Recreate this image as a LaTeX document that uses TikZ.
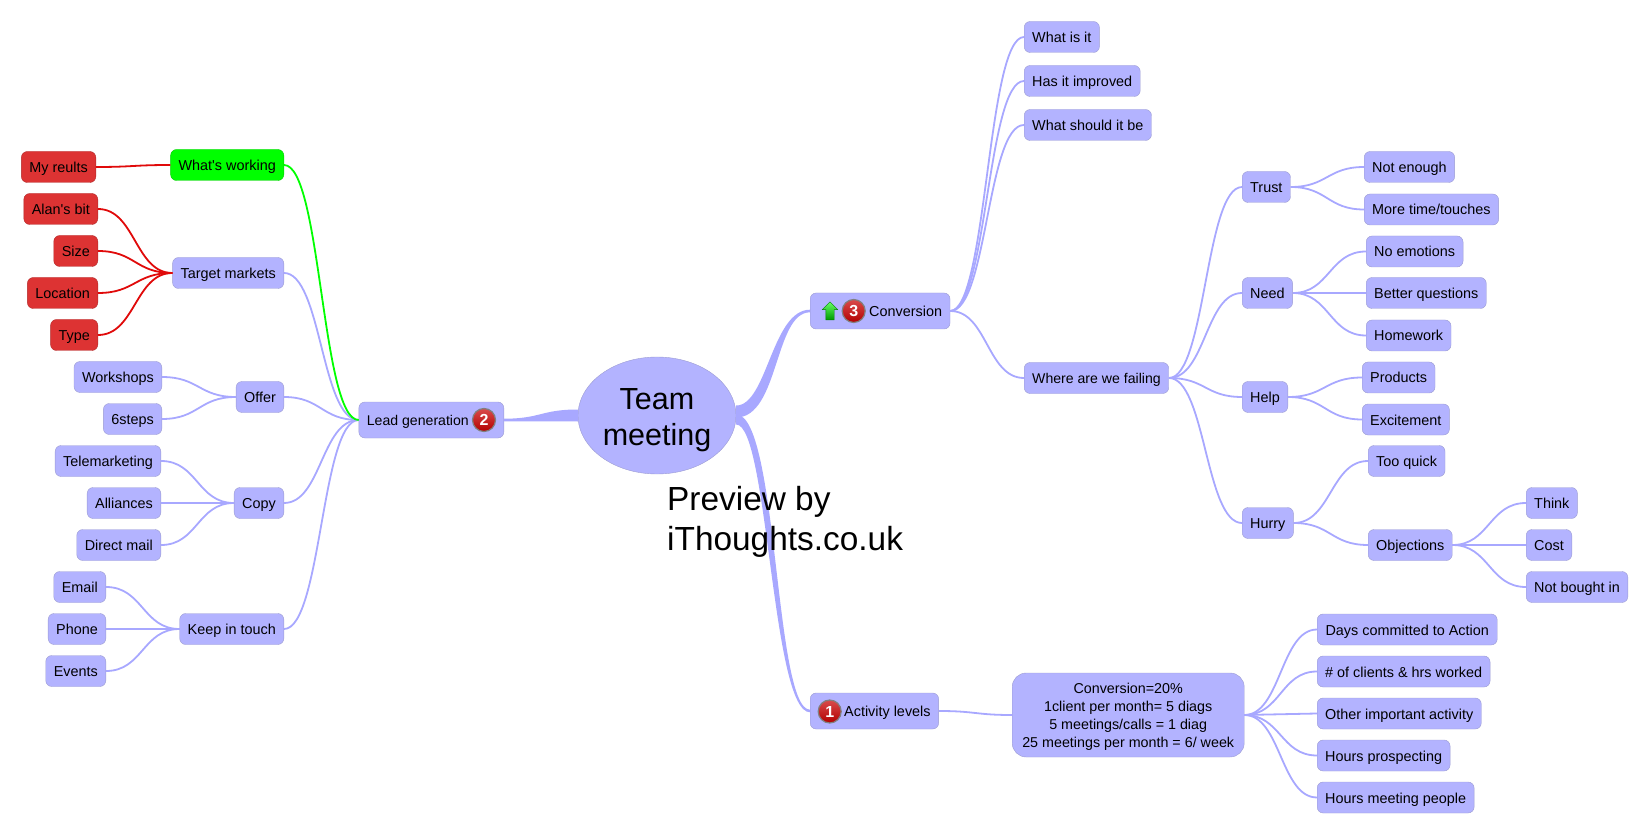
\documentclass[tikz,border=0pt]{standalone}
\usepackage{fontspec}
\usepackage{xcolor}
\setmainfont{Liberation Sans}
\usetikzlibrary{calc}
\usetikzlibrary{shapes.geometric}
\usetikzlibrary{shapes.arrows}
\definecolor{nodefill}{HTML}{B3B3FF}
\definecolor{nodeline}{HTML}{9C9CD2}
\definecolor{linkblue}{HTML}{A8A8FF}
\definecolor{nodered}{HTML}{DD3333}
\definecolor{linkred}{HTML}{E00A0A}
\definecolor{nodegreen}{HTML}{00FF00}
\tikzset{box/.style={draw=nodeline,fill=nodefill,rounded corners=6pt,minimum height=31pt,inner xsep=8pt,inner ysep=0pt,text height=11pt,text depth=0pt,font=\fontsize{14.4}{18}\selectfont},
	narrow/.style={font=\fontsize{14.1}{18}\selectfont},
	topic/.style={box,minimum height=36pt},
	redbox/.style={box,fill=nodered,draw=nodered!80!black},
	greenbox/.style={box,fill=nodegreen,draw=green!80!black},
	badge/.style={circle,draw=black!50,line width=1.2pt,top color=red!65!white!85!black,bottom color=red!70!black,text=white,inner sep=0pt,minimum size=23pt,font=\fontsize{16}{16}\selectfont\bfseries},
	upmark/.style={single arrow,shape border rotate=90,draw=green!50!black,top color=green!60!white,bottom color=green!60!black,minimum width=15pt,minimum height=18pt,inner sep=4pt,single arrow head extend=3.5pt,single arrow head indent=0pt},
	branch/.style={to path={let \p1=(\tikztostart),\p2=(\tikztotarget),\n1={0.5*(\x2-\x1)} in .. controls (\x1+\n1,\y1) and (\x2-\n1,\y2) .. (\tikztotarget)}}}
\newcommand{\trunk}[5]{\fill[linkblue] let \p1=(#1),\p2=(#2),\n1={0.5*(\x2-\x1)} in
	(\x1,\y1+#3) .. controls (\x1+\n1+#5*#3,\y1+#3) and (\x2-\n1+#5*#4,\y2+#4) .. (\x2,\y2+#4)
	-- (\x2,\y2-#4) .. controls (\x2-\n1-#5*#4,\y2-#4) and (\x1+\n1-#5*#3,\y1-#3) .. (\x1,\y1-#3) -- cycle;}

\begin{document}
\begin{tikzpicture}[x=1pt,y=-1pt]
	\useasboundingbox (0,0) rectangle (1650,834);
	\node[ellipse,draw=nodeline,fill=nodefill,minimum width=158pt,minimum height=117pt,inner sep=0pt,align=center,font=\fontsize{30.5}{36}\selectfont] (Team) at (657,415.5) {\rule{0pt}{30pt}Team\\meeting};
	\begin{scope}[every node/.style={box,anchor=west}]
		\node[topic] (Conv) at (810,311) {\hspace*{51pt}Conversion};
		\node[topic] (Act) at (810,711) {\hspace*{26pt}Activity levels};
		\node (WhatIs) at (1024,37) {What is it};
		\node (Improved) at (1024,81) {Has it improved};
		\node (Should) at (1024,125) {What should it be};
		\node[narrow] (Failing) at (1024,378) {Where are we failing};
		\node (Trust) at (1242,187) {Trust};
		\node (Enough) at (1364,167) {Not enough};
		\node (Touches) at (1364,209.5) {More time/touches};
		\node (Need) at (1242,293) {Need};
		\node (Emotions) at (1366,251.5) {No emotions};
		\node (Questions) at (1366,293) {Better questions};
		\node (Homework) at (1366,335.5) {Homework};
		\node (Help) at (1242,397) {Help};
		\node (Products) at (1362,377.5) {Products};
		\node (Excite) at (1362,419.5) {Excitement};
		\node (Hurry) at (1242,523) {Hurry};
		\node (Quick) at (1368,461) {Too quick};
		\node (Object) at (1368,545) {Objections};
		\node (Think) at (1526,503) {Think};
		\node (Cost) at (1526,545) {Cost};
		\node (Bought) at (1526,587) {Not bought in};
		\node[font=\fontsize{14.3}{18}\selectfont,rounded corners=14pt,align=center,text height={},text depth={},minimum width=232pt,minimum height=84pt] (Rates) at (1012,715) {\rule{0pt}{14.5pt}Conversion=20\%\\1client per month= 5 diags\\5 meetings/calls = 1 diag\\25 meetings per month = 6/ week};
		\node[minimum width=180pt] (Days) at (1317,629.5) {Days committed to Action};
		\node (Clients) at (1317,671.5) {\# of clients \& hrs worked};
		\node (Other) at (1317,713.5) {Other important activity};
		\node (Prospect) at (1317,755.5) {Hours prospecting};
		\node (People) at (1317,797.5) {Hours meeting people};
	\end{scope}
	\begin{scope}[every node/.style={box,anchor=east}]
		\node[topic,narrow] (Lead) at (504,420) {Lead generation\hspace*{27pt}};
		\node[greenbox] (Working) at (284,165) {What\textquotesingle s working};
		\node[redbox] (Reults) at (96,167) {My reults};
		\node[redbox] (Alan) at (98,209) {Alan\textquotesingle s bit};
		\node[redbox] (Size) at (98,251) {Size};
		\node[redbox] (Location) at (98,293) {Location};
		\node[redbox] (Type) at (98,335) {Type};
		\node (Target) at (284,273) {Target markets};
		\node (Offer) at (284,397) {Offer};
		\node (Workshops) at (162,377) {Workshops};
		\node (Steps) at (162,419) {6steps};
		\node (Copy) at (284,503) {Copy};
		\node (Tele) at (161,461) {Telemarketing};
		\node (Alliances) at (161,503) {Alliances};
		\node (Direct) at (161,545) {Direct mail};
		\node (Touch) at (284,629) {Keep in touch};
		\node (Email) at (106,587) {Email};
		\node (Phone) at (106,629) {Phone};
		\node (Events) at (106,671) {Events};
	\end{scope}
	\node[upmark] (Up) at (830,313) {};
	\node[badge] (Three) at (853.7,311) {3};
	\node[badge] (Two) at (484,420) {2};
	\node[badge] (One) at (829.7,711.5) {1};
	\trunk{$(Team.east)+(0,-4)$}{Conv.west}{6pt}{1.3pt}{-1}
	\trunk{$(Team.east)+(0,4)$}{Act.west}{5pt}{1.3pt}{1}
	\trunk{Team.west}{Lead.east}{6pt}{1.3pt}{0}
	\begin{scope}[every edge/.style={draw=linkblue,line width=1.8pt,branch}]
		\path (Conv.east) edge (WhatIs.west);
		\path (Conv.east) edge (Improved.west);
		\path (Conv.east) edge (Should.west);
		\path (Conv.east) edge (Failing.west);
		\path (Failing.east) edge (Trust.west);
		\path (Failing.east) edge (Need.west);
		\path (Failing.east) edge (Help.west);
		\path (Failing.east) edge (Hurry.west);
		\path (Trust.east) edge (Enough.west);
		\path (Trust.east) edge (Touches.west);
		\path (Need.east) edge (Emotions.west);
		\path (Need.east) edge (Questions.west);
		\path (Need.east) edge (Homework.west);
		\path (Help.east) edge (Products.west);
		\path (Help.east) edge (Excite.west);
		\path (Hurry.east) edge (Quick.west);
		\path (Hurry.east) edge (Object.west);
		\path (Object.east) edge (Think.west);
		\path (Object.east) edge (Cost.west);
		\path (Object.east) edge (Bought.west);
		\path (Act.east) edge (Rates.west);
		\path (Rates.east) edge (Days.west);
		\path (Rates.east) edge (Clients.west);
		\path (Rates.east) edge (Other.west);
		\path (Rates.east) edge (Prospect.west);
		\path (Rates.east) edge (People.west);
		\path (Lead.west) edge (Target.east);
		\path (Lead.west) edge (Offer.east);
		\path (Lead.west) edge (Copy.east);
		\path (Lead.west) edge (Touch.east);
		\path (Offer.west) edge (Workshops.east);
		\path (Offer.west) edge (Steps.east);
		\path (Copy.west) edge (Tele.east);
		\path (Copy.west) edge (Alliances.east);
		\path (Copy.west) edge (Direct.east);
		\path (Touch.west) edge (Email.east);
		\path (Touch.west) edge (Phone.east);
		\path (Touch.west) edge (Events.east);
	\end{scope}
	\path[draw=nodegreen,line width=1.8pt] (Lead.west) to[branch] (Working.east);
	\begin{scope}[every edge/.style={draw=linkred,line width=1.8pt,branch}]
		\path (Working.west) edge (Reults.east);
		\path (Target.west) edge (Alan.east);
		\path (Target.west) edge (Size.east);
		\path (Target.west) edge (Location.east);
		\path (Target.west) edge (Type.east);
	\end{scope}
	\node[anchor=west,align=left,font=\fontsize{33.4}{40}\selectfont,inner sep=0pt] (Preview) at (667,521.5) {Preview by\\iThoughts.co.uk};
\end{tikzpicture}
\end{document}
